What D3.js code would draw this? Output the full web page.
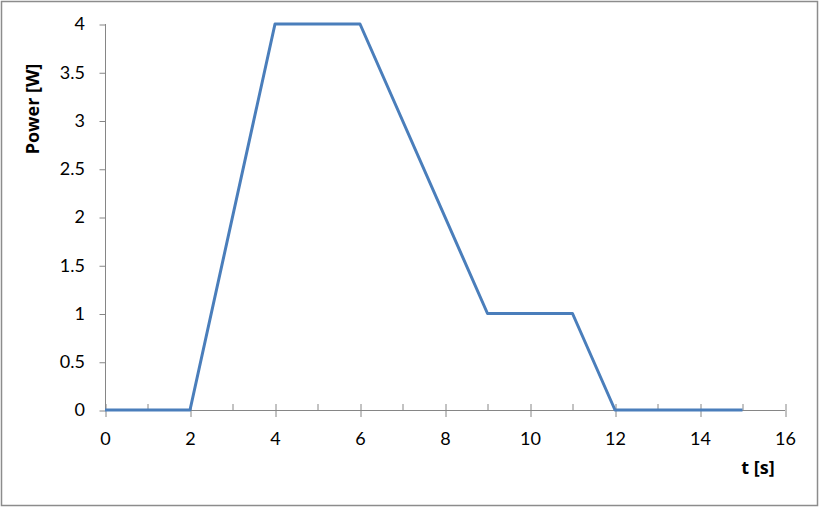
<!DOCTYPE html>
<html><head><meta charset="utf-8">
<script src="https://cdn.jsdelivr.net/npm/d3@7"></script>
<style>body{margin:0;background:#fff}svg{display:block}</style>
</head><body>
<svg id="c" width="819" height="507"></svg>
<script>
const times = [0, 2, 4, 6, 9, 11, 12, 15];
const power = [0, 0, 4, 4, 1, 1, 0, 0];
const xTicks = [0, 2, 4, 6, 8, 10, 12, 14, 16];
const xMinor = [1, 3, 5, 7, 9, 11, 13, 15];
const yTicks = [0, 0.5, 1, 1.5, 2, 2.5, 3, 3.5, 4];
const xTitle = "t [s]";
const yTitle = "Power [W]";

const svg = d3.select("#c");
const font = "Lato, 'Open Sans', sans-serif";
const titleFont = "'Open Sans', Lato, sans-serif";
svg.append("rect").attr("x", 1.5).attr("y", 1.5).attr("width", 816).attr("height", 504)
  .attr("fill", "#fff").attr("stroke", "#8c8c8c").attr("stroke-width", 1.5);

const x = d3.scaleLinear().domain([0, 16]).range([105, 785]);
const y = d3.scaleLinear().domain([0, 4]).range([410, 24]);
const axisColor = "#868686";
const fs = 18;

// y axis
const ya = svg.append("g").attr("transform", `translate(${x(0)},0)`)
  .call(d3.axisLeft(y).tickValues(yTicks).tickSize(6).tickPadding(14).tickFormat(d3.format("")));
ya.select(".domain").remove();
ya.append("line").attr("x1", 0.5).attr("x2", 0.5).attr("y1", y(0)).attr("y2", y(4)).attr("stroke", axisColor);
ya.selectAll(".tick line").attr("stroke", axisColor).attr("transform", "translate(0.5,0.5)");
ya.selectAll(".tick text").attr("font-family", font).attr("font-size", fs).attr("fill", "#000");

// x axis
const xa = svg.append("g").attr("transform", `translate(0,${y(0)})`)
  .call(d3.axisBottom(x).tickValues(xTicks).tickSize(7).tickPadding(15).tickFormat(d3.format("d")));
xa.select(".domain").remove();
xa.append("line").attr("x1", x(0)).attr("x2", x(16)).attr("y1", 0.5).attr("y2", 0.5).attr("stroke", axisColor);
xa.selectAll(".tick line").attr("stroke", axisColor).attr("y1", -6).attr("transform", "translate(0.5,0)");
xa.selectAll(".tick text").attr("font-family", font).attr("font-size", fs).attr("fill", "#000");
xa.selectAll(".minor").data(xMinor).enter().append("line").attr("class", "minor")
  .attr("x1", d => x(d) + 0.5).attr("x2", d => x(d) + 0.5).attr("y1", -6).attr("y2", 0)
  .attr("stroke", axisColor);

// line
const pts = times.map((t, i) => [t, power[i]]);
svg.append("path").datum(pts)
  .attr("d", d3.line().x(d => x(d[0])).y(d => y(d[1])))
  .attr("fill", "none").attr("stroke", "#4a7ebb").attr("stroke-width", 3)
  .attr("stroke-linejoin", "round");

// titles
svg.append("text").attr("x", 758).attr("y", 474).attr("text-anchor", "middle")
  .attr("font-family", titleFont).attr("font-weight", "bold").attr("font-size", fs).text(xTitle);
svg.append("text").attr("transform", "translate(39,109) rotate(-90)").attr("text-anchor", "middle")
  .attr("font-family", titleFont).attr("font-weight", "bold").attr("font-size", fs).text(yTitle);
</script>
</body></html>
